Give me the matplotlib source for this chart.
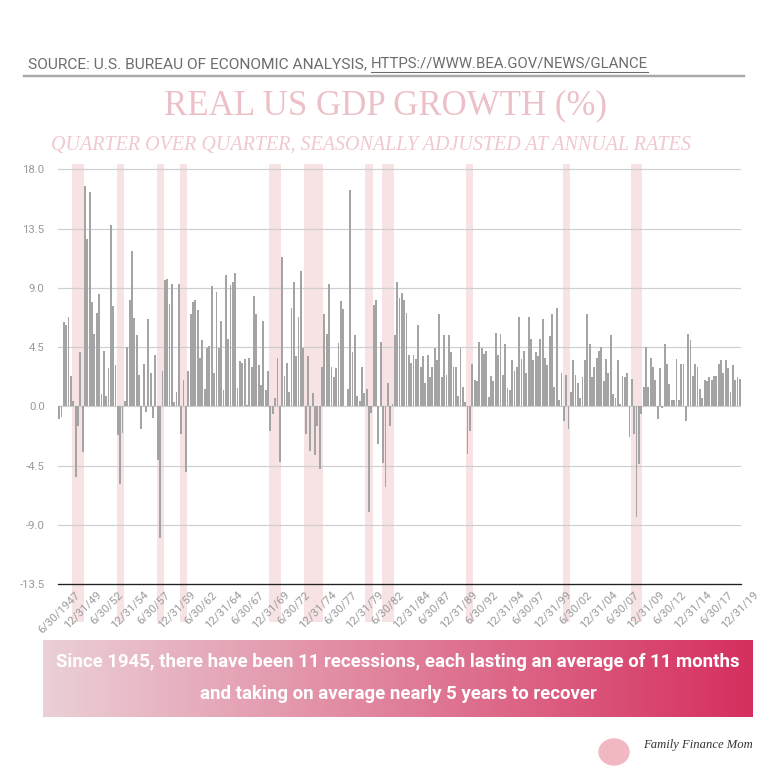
import numpy as np
import matplotlib
matplotlib.use("Agg")
import matplotlib.pyplot as plt
from matplotlib.patches import Ellipse

plt.rcParams['font.family'] = ['Roboto', 'DejaVu Sans']

# quarterly real GDP growth, % annualized, 6/30/1947 .. 12/31/2019
growth_1940s = [-1.0, -0.8, 6.4, 6.2, 6.8, 2.3, 0.4, -5.4, -1.5, 4.1, -3.5]
growth_1950s = [16.7, 12.7, 16.3, 7.9, 5.5, 7.1, 8.5, 0.9, 4.2, 0.8,
                2.9, 13.8, 7.6, 3.1, -2.2, -5.9, -2.0, 0.4, 4.5, 8.1,
                11.8, 6.7, 5.4, 2.4, -1.7, 3.2, -0.4, 6.6, 2.5, -0.9,
                3.9, -4.1, -10.0, 2.7, 9.6, 9.7, 7.8, 9.3, 0.3, 1.1]
growth_1960s = [9.3, -2.1, 2.0, -5.0, 2.7, 7.0, 7.9, 8.1, 7.3, 3.7,
                5.0, 1.3, 4.4, 4.6, 9.1, 2.5, 8.7, 4.4, 6.5, 1.2,
                10.0, 5.1, 9.2, 9.4, 10.1, 1.4, 3.4, 3.3, 3.6, 0.1,
                3.7, 3.0, 8.4, 7.0, 3.1, 1.6, 6.5, 1.2, 2.7, -1.9]
growth_1970s = [-0.6, 0.6, 3.7, -4.2, 11.3, 2.3, 3.3, 1.1, 7.5, 9.4,
                3.8, 6.8, 10.3, 4.4, -2.1, 3.8, -3.4, 1.0, -3.7, -1.5,
                -4.8, 3.0, 7.0, 5.5, 9.3, 3.0, 2.2, 2.9, 4.8, 8.0,
                7.4, 0.0, 1.3, 16.4, 4.1, 5.4, 0.8, 0.4, 3.0, 1.0]
growth_1980s = [1.3, -8.0, -0.5, 7.7, 8.1, -2.9, 4.9, -4.3, -6.1, 1.8,
                -1.5, 0.2, 5.4, 9.4, 8.2, 8.6, 8.1, 7.1, 3.9, 3.3,
                3.9, 3.6, 6.2, 3.0, 3.8, 1.8, 3.9, 2.2, 3.0, 4.4,
                3.5, 7.0, 2.2, 5.4, 2.4, 5.4, 4.1, 3.0, 3.0, 0.8]
growth_1990s = [4.4, 1.5, 0.3, -3.6, -1.9, 3.2, 2.0, 1.9, 4.9, 4.4,
                4.0, 4.2, 0.7, 2.3, 1.9, 5.6, 3.9, 5.5, 2.4, 4.7,
                1.4, 1.2, 3.5, 2.7, 3.0, 6.8, 3.6, 4.2, 2.5, 6.8,
                5.1, 3.5, 4.1, 3.8, 5.1, 6.6, 3.7, 3.1, 5.3, 7.0]
growth_2000s = [1.5, 7.5, 0.5, 2.5, -1.1, 2.4, -1.7, 1.1, 3.5, 2.4,
                1.8, 0.6, 2.2, 3.5, 7.0, 4.7, 2.2, 3.0, 3.7, 4.2,
                4.5, 1.9, 3.6, 2.5, 5.4, 0.9, 0.6, 3.5, 0.2, 2.3,
                2.2, 2.5, -2.3, 2.1, -2.1, -8.4, -4.4, -0.6, 1.5, 4.5]
growth_2010s = [1.5, 3.7, 3.0, 2.0, -1.0, 2.9, -0.1, 4.7, 3.2, 1.7,
                0.5, 0.5, 3.6, 0.5, 3.2, 3.2, -1.1, 5.5, 5.0, 2.3,
                3.2, 3.0, 1.3, 0.6, 2.0, 1.9, 2.2, 2.0, 2.3, 2.3,
                3.2, 3.5, 2.5, 3.5, 2.9, 1.1, 3.1, 2.0, 2.2, 2.1]

growth = (growth_1940s + growth_1950s + growth_1960s + growth_1970s
          + growth_1980s + growth_1990s + growth_2000s + growth_2010s)

# recessions as (first quarter, last quarter) positions in the series
recessions = [(6, 10), (25, 27), (42, 44), (52, 54), (90, 94), (105, 112),
              (131, 133), (138, 142), (174, 176), (215, 217), (244, 248)]

tick_labels = ["6/30/1947", "12/31/49", "6/30/52", "12/31/54", "6/30/57",
               "12/31/59", "6/30/62", "12/31/64", "6/30/67", "12/31/69",
               "6/30/72", "12/31/74", "6/30/77", "12/31/79", "6/30/82",
               "12/31/84", "6/30/87", "12/31/89", "6/30/92", "12/31/94",
               "6/30/97", "12/31/99", "6/30/02", "12/31/04", "6/30/07",
               "12/31/09", "6/30/12", "12/31/14", "6/30/17", "12/31/19"]
y_ticks = [18.0, 13.5, 9.0, 4.5, 0.0, -4.5, -9.0, -13.5]

source_text = "SOURCE: U.S. BUREAU OF ECONOMIC ANALYSIS, "
source_url = "HTTPS://WWW.BEA.GOV/NEWS/GLANCE"
title = "REAL US GDP GROWTH (%)"
subtitle = "QUARTER OVER QUARTER, SEASONALLY ADJUSTED AT ANNUAL RATES"
note_1 = "Since 1945, there have been 11 recessions, each lasting an average of 11 months"
note_2 = "and taking on average nearly 5 years to recover"

W = 768.0
fig = plt.figure(figsize=(8, 8), dpi=96)
ax = fig.add_axes([58 / W, 1 - 584 / W, (741 - 58) / W, (584 - 164) / W])

x = np.arange(len(growth))
for start, end in recessions:
    ax.axvspan(start - 0.5, end + 0.5, ymin=-0.09, ymax=1, color='#f7e3e4',
               zorder=1, clip_on=False, lw=0)
for yt in y_ticks[:-1]:
    ax.axhline(yt, color='#cfcfcf', lw=0.9, zorder=1.5)
ax.bar(x, growth, width=0.78, color='#a4a4a4', zorder=2, lw=0)

ax.set_xlim(-0.5, len(growth) - 0.5)
ax.set_ylim(-13.5, 18.4)
ax.set_yticks(y_ticks)
ax.set_yticklabels([f"{v:.1f}" for v in y_ticks])
ax.set_xticks(x[::10])
ax.set_xticklabels(tick_labels, rotation=45)
ax.tick_params(length=0, colors='#9a9a9a', labelsize=8.5)
ax.tick_params(axis='y', pad=10)
ax.tick_params(axis='x', pad=4)
for s in ['top', 'right', 'left']:
    ax.spines[s].set_visible(False)
ax.spines['bottom'].set_color('#222222')
ax.spines['bottom'].set_linewidth(1)
ax.set_facecolor('none')

# header
t_src = fig.text(28 / W, 1 - 64 / W, source_text, fontsize=12,
                 color='#6d6d6d', va='center', ha='left')
t_url = fig.text(370 / W, 1 - 64 / W, source_url, fontsize=12,
                 color='#6d6d6d', va='center', ha='left')
t_title = fig.text(386 / W, 1 - 106 / W, title, ha='center', va='center',
                   fontsize=24, color='#ecc0c7', family='Liberation Serif')
t_sub = fig.text(371 / W, 1 - 145 / W, subtitle, ha='center', va='center',
                 fontsize=12.5, color='#f0c8ce', family='Liberation Serif',
                 style='italic')
fig.add_artist(plt.Line2D([24 / W, 744 / W], [1 - 76 / W, 1 - 76 / W],
                          color='#a8a8a8', lw=1.8))

# footer box with gradient
bax = fig.add_axes([43 / W, 1 - 717 / W, (753 - 43) / W, (717 - 640) / W])
c0 = np.array([235, 208, 214]) / 255
c1 = np.array([213, 47, 94]) / 255
t = np.linspace(0, 1, 256)[None, :, None]
grad = c0 + (c1 - c0) * t
bax.imshow(grad, aspect='auto', extent=[0, 1, 0, 1])
bax.set_axis_off()
t_n1 = bax.text(0.5, 0.72, note_1, ha='center', va='center', color='white',
                fontsize=14, fontweight='bold', transform=bax.transAxes)
t_n2 = bax.text(0.5, 0.3, note_2, ha='center', va='center', color='white',
                fontsize=14, fontweight='bold', transform=bax.transAxes)

# logo
fig.add_artist(Ellipse((614 / W, 1 - 752 / W), 30 / W, 26 / W,
                       color='#f2b8c2', transform=fig.transFigure))
fig.text(698 / W, 1 - 745 / W, "Family Finance Mom", ha='center',
         va='center', fontsize=9.5, color='#333333', style='italic',
         family='Liberation Serif')

# scale texts so their widths match the picture
fig.canvas.draw()
r = fig.canvas.get_renderer()
for txt, target in [(t_src, 342), (t_url, 277), (t_title, 443),
                    (t_sub, 637), (t_n1, 680), (t_n2, 395)]:
    w = txt.get_window_extent(r).width
    txt.set_fontsize(txt.get_fontsize() * target / w)

fig.canvas.draw()
bb = t_src.get_window_extent(r)
t_url.set_x(bb.x1 / fig.bbox.width)
ub = t_url.get_window_extent(r)
fig.add_artist(plt.Line2D([ub.x0 / fig.bbox.width, ub.x1 / fig.bbox.width],
                          [(ub.y0 - 1) / fig.bbox.height] * 2,
                          color='#6d6d6d', lw=0.8))

fig.savefig("out.png", dpi=96)
